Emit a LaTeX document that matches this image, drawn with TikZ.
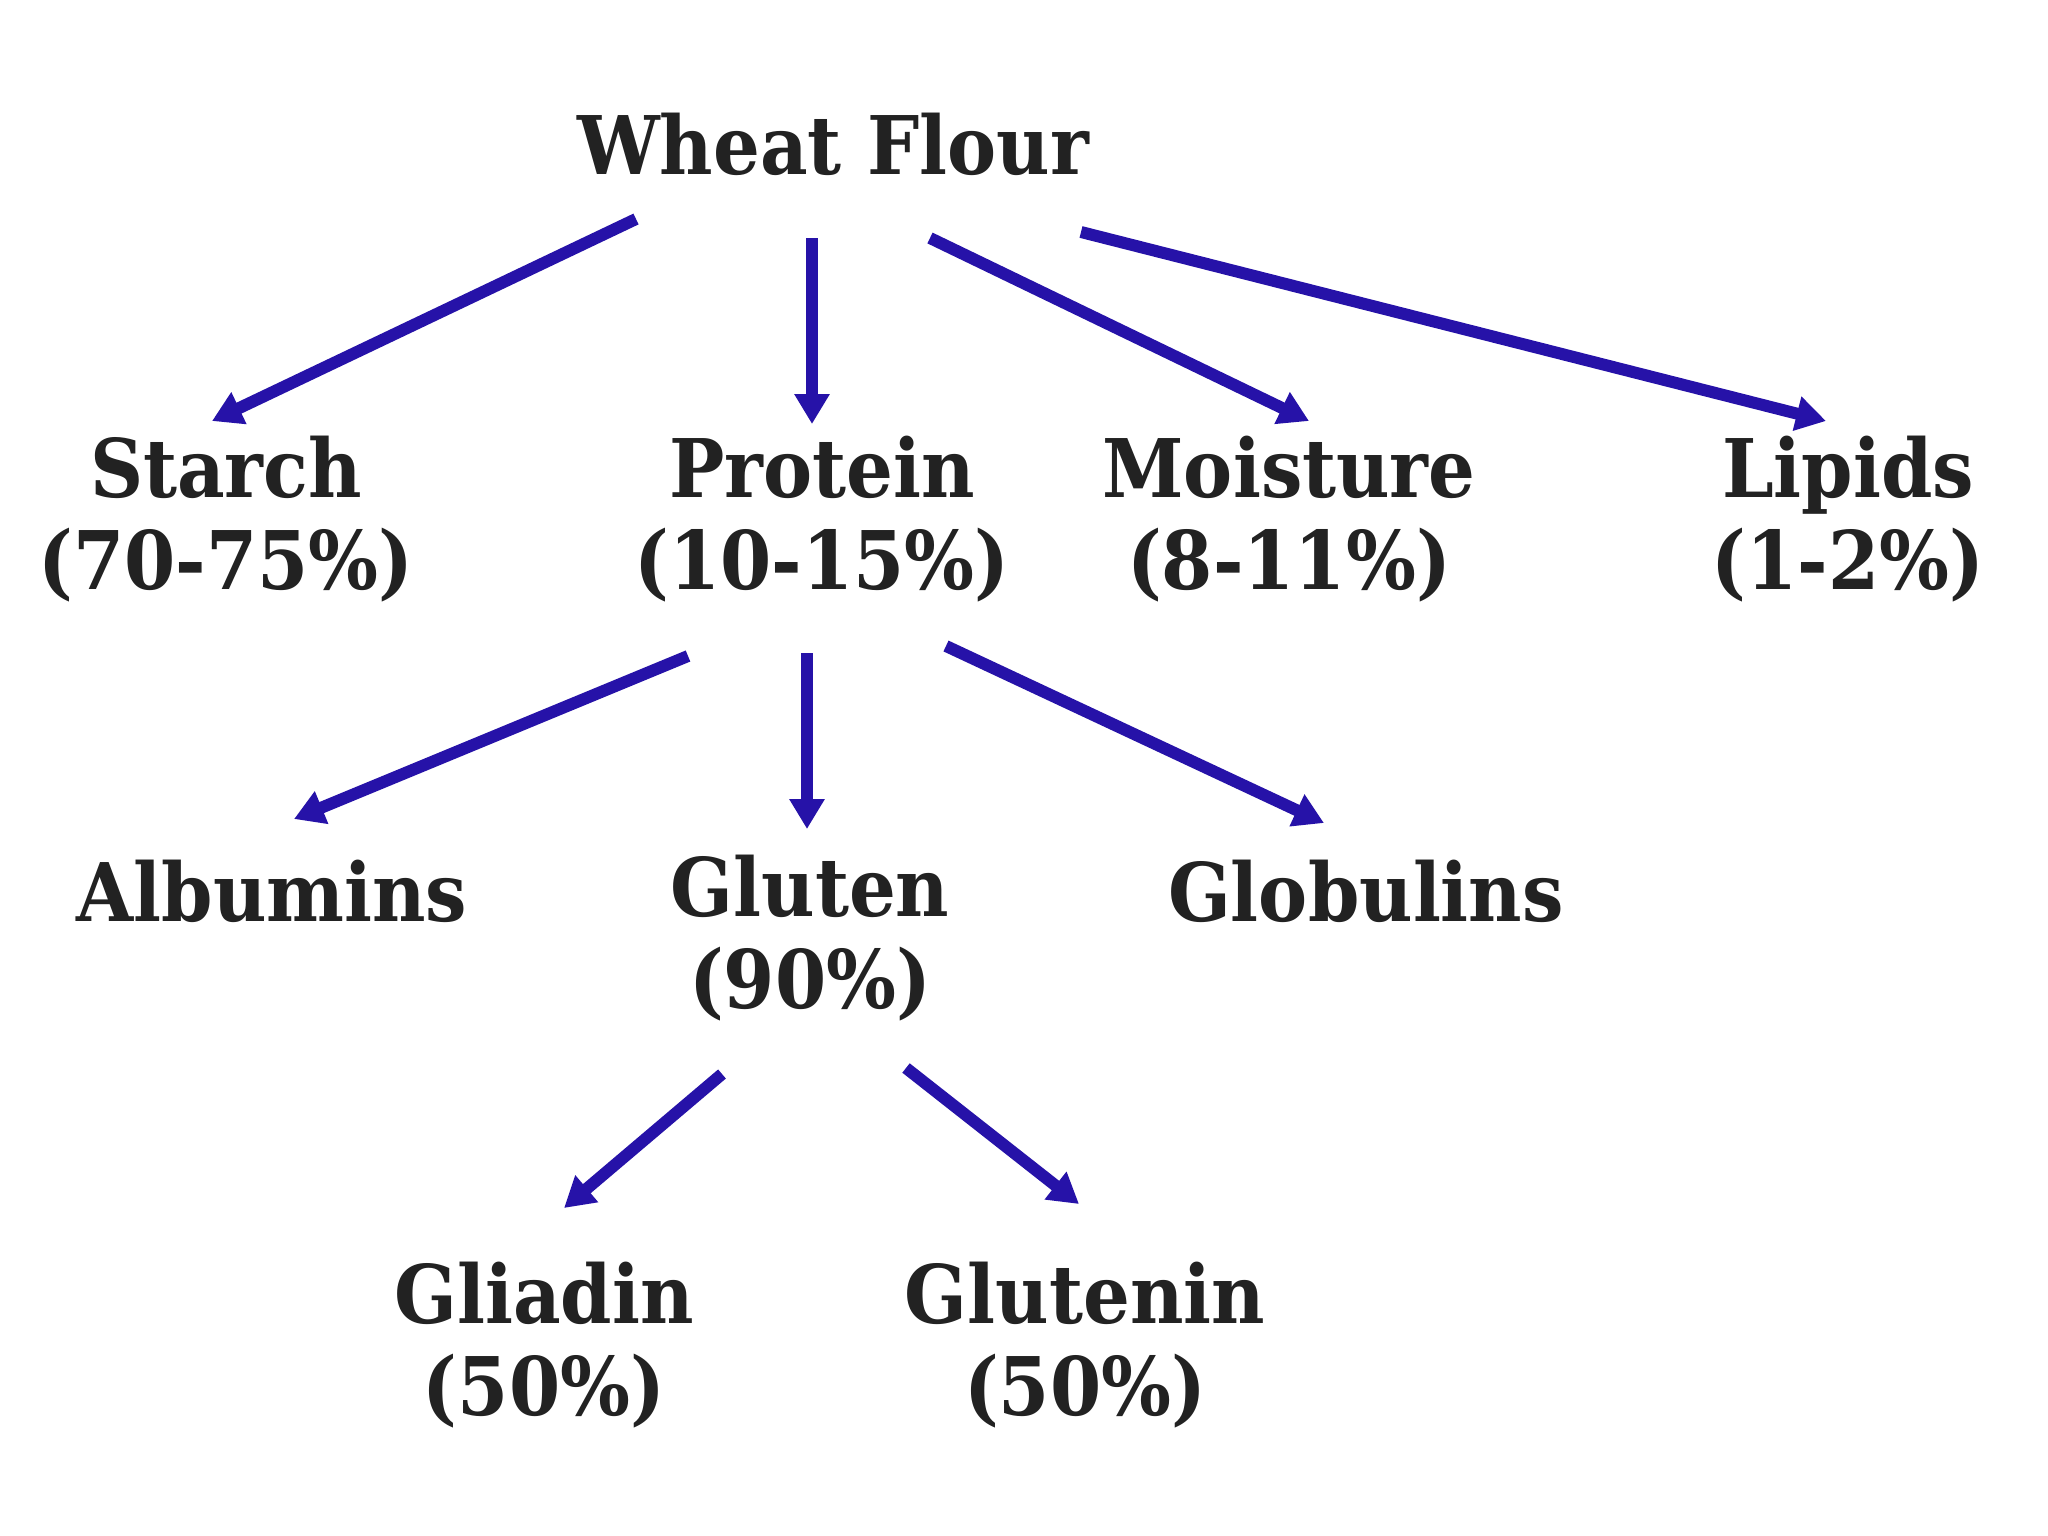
\documentclass[tikz,border=0pt]{standalone}
\usepackage{fontspec}
\setmainfont{DejaVu Serif}[FakeStretch=0.91]
\usetikzlibrary{arrows.meta}
\definecolor{arrblue}{RGB}{38,18,168}
\definecolor{txt}{RGB}{34,34,34}
\begin{document}
\begin{tikzpicture}[x=0.01cm,y=-0.01cm,
  lbl/.style={align=center,inner sep=0pt,text=txt,font=\fontsize{23}{26}\selectfont\bfseries},
  arr/.style={draw=arrblue,line width=3.4pt,-{Triangle[length=8.5pt,width=9.5pt]}}]
\fill[white] (0,0) rectangle (2048,1536);
\useasboundingbox (0,0) rectangle (2048,1536);
\node[lbl] (wf) at (833,144) {Wheat Flour};
\node[lbl] (starch) at (226,519) {Starch\\(70-75\%)};
\node[lbl] (protein) at (822,519) {Protein\\(10-15\%)};
\node[lbl] (moisture) at (1289,519) {Moisture\\(8-11\%)};
\node[lbl] (lipids) at (1848,519) {Lipids\\(1-2\%)};
\node[lbl] (albumins) at (272,891) {Albumins};
\node[lbl] (gluten) at (810,938) {Gluten\\(90\%)};
\node[lbl] (globulins) at (1366,891) {Globulins};
\node[lbl] (gliadin) at (544,1345) {Gliadin\\(50\%)};
\node[lbl] (glutenin) at (1085,1345) {Glutenin\\(50\%)};
\draw[arr] ([shift={(-197,75)}]wf.center) -- ([shift={(-14,-98)}]starch.center);
\draw[arr] ([shift={(-21,94)}]wf.center) -- ([shift={(-10,-95)}]protein.center);
\draw[arr] ([shift={(97,94)}]wf.center) -- ([shift={(20,-98)}]moisture.center);
\draw[arr] ([shift={(248,88)}]wf.center) -- ([shift={(-22,-98)}]lipids.center);
\draw[arr] ([shift={(-134,137)}]protein.center) -- ([shift={(22,-72)}]albumins.center);
\draw[arr] ([shift={(-15,134)}]protein.center) -- ([shift={(-3,-109)}]gluten.center);
\draw[arr] ([shift={(124,127)}]protein.center) -- ([shift={(-42,-68)}]globulins.center);
\draw[arr] ([shift={(-88,136)}]gluten.center) -- ([shift={(20,-137)}]gliadin.center);
\draw[arr] ([shift={(96,130)}]gluten.center) -- ([shift={(-6,-141)}]glutenin.center);
\end{tikzpicture}
\end{document}
